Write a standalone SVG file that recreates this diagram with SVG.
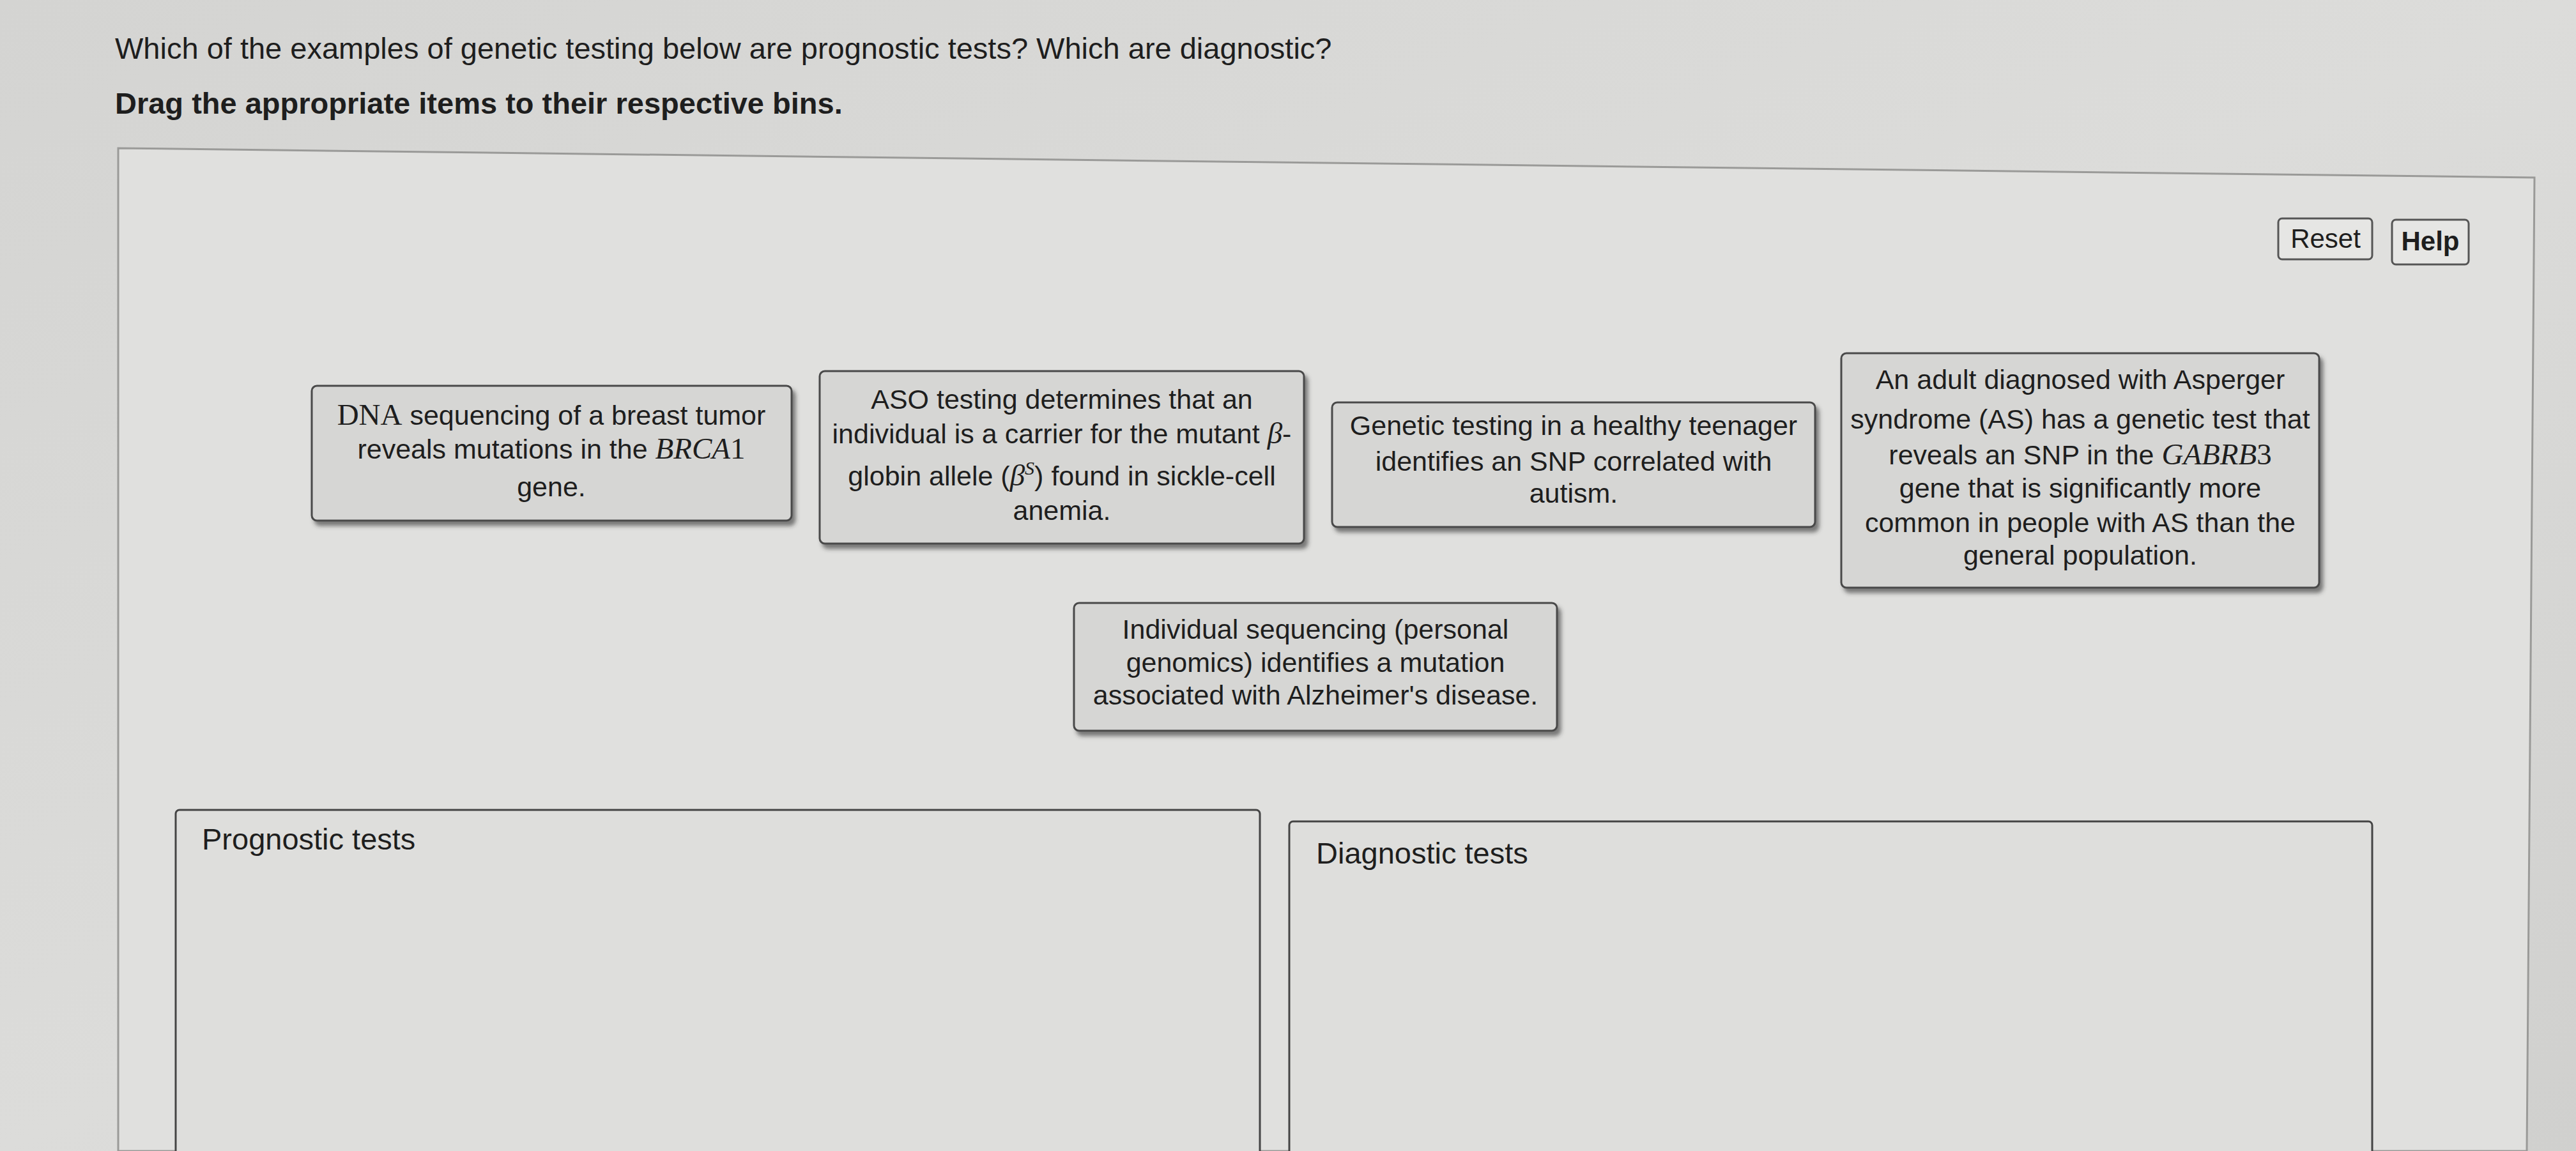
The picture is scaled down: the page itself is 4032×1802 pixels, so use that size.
<svg xmlns="http://www.w3.org/2000/svg" width="4032" height="1802" viewBox="0 0 4032 1802">
<defs>
<linearGradient id="bg" x1="0" y1="0" x2="1" y2="1"><stop offset="0" stop-color="#d4d4d2"/><stop offset="0.5" stop-color="#dcdcda"/><stop offset="1" stop-color="#d0d0ce"/></linearGradient>
<filter id="sh" x="-5%" y="-5%" width="115%" height="125%"><feDropShadow dx="5" dy="7" stdDeviation="3" flood-color="#333" flood-opacity="0.6"/></filter>
</defs>
<style>
text{font-family:"Liberation Sans",Arial,sans-serif;fill:#1e1e1e}
.t{font-size:47px}
.c{font-size:43px;text-anchor:middle}
.m{font-family:"Liberation Serif","Times New Roman",serif;font-style:italic;font-size:47px}
.r{font-family:"Liberation Serif","Times New Roman",serif;font-size:47px}
.card{fill:#d6d6d4;stroke:#4a4a4a;stroke-width:3;filter:url(#sh)}
.bin{fill:#dededc;stroke:#444;stroke-width:3}
.btn{fill:#e6e6e4;stroke:#555;stroke-width:3}
</style>
<rect width="4032" height="1802" fill="url(#bg)"/>
<text class="t" x="180" y="92">Which of the examples of genetic testing below are prognostic tests? Which are diagnostic?</text>
<text class="t" x="180" y="178" font-weight="bold">Drag the appropriate items to their respective bins.</text>
<polygon points="185,232 3967,278 3955,1802 185,1802" fill="#e0e0de" stroke="#9a9a98" stroke-width="3"/>
<g id="reset"><rect class="btn" x="3566" y="342" width="147" height="64" rx="6"/><text x="3640" y="388" text-anchor="middle" font-size="42" fill="#333">Reset</text></g>
<g id="help"><rect class="btn" x="3744" y="344" width="120" height="70" rx="6"/><text x="3804" y="392" text-anchor="middle" font-size="42" font-weight="bold">Help</text></g>
<g id="card1"><rect class="card" x="488" y="604" width="751" height="211" rx="8"/>
<text class="c" x="863" y="665"><tspan class="r">DNA</tspan> sequencing of a breast tumor</text>
<text class="c" x="863" y="718">reveals mutations in the <tspan class="m">BRCA</tspan><tspan class="r">1</tspan></text>
<text class="c" x="863" y="777">gene.</text></g>
<g id="card2"><rect class="card" x="1283" y="581" width="758" height="270" rx="8"/>
<text class="c" x="1662" y="640">ASO testing determines that an</text>
<text class="c" x="1662" y="694">individual is a carrier for the mutant <tspan class="m">β</tspan>-</text>
<text class="c" x="1662" y="760">globin allele (<tspan class="m">β</tspan><tspan class="m" style="font-size:30px" dy="-17">S</tspan><tspan dy="17">) found in sickle-cell</tspan></text>
<text class="c" x="1662" y="814">anemia.</text></g>
<g id="card3"><rect class="card" x="2085" y="630" width="756" height="195" rx="8"/>
<text class="c" x="2463" y="681">Genetic testing in a healthy teenager</text>
<text class="c" x="2463" y="737">identifies an SNP correlated with</text>
<text class="c" x="2463" y="787">autism.</text></g>
<g id="card4"><rect class="card" x="2882" y="553" width="748" height="367" rx="8"/>
<text class="c" x="3256" y="609">An adult diagnosed with Asperger</text>
<text class="c" x="3256" y="671">syndrome (AS) has a genetic test that</text>
<text class="c" x="3256" y="727">reveals an SNP in the <tspan class="m">GABRB</tspan><tspan class="r">3</tspan></text>
<text class="c" x="3256" y="779">gene that is significantly more</text>
<text class="c" x="3256" y="833">common in people with AS than the</text>
<text class="c" x="3256" y="884">general population.</text></g>
<g id="card5"><rect class="card" x="1681" y="944" width="756" height="200" rx="8"/>
<text class="c" x="2059" y="1000">Individual sequencing (personal</text>
<text class="c" x="2059" y="1052">genomics) identifies a mutation</text>
<text class="c" x="2059" y="1103">associated with Alzheimer's disease.</text></g>
<g id="prognostic"><rect class="bin" x="275" y="1268" width="1697" height="560" rx="6"/>
<text class="t" x="316" y="1330">Prognostic tests</text></g>
<g id="diagnostic"><rect class="bin" x="2018" y="1286" width="1695" height="540" rx="6"/>
<text class="t" x="2060" y="1352">Diagnostic tests</text></g>
<g id="connectors"/>
</svg>
